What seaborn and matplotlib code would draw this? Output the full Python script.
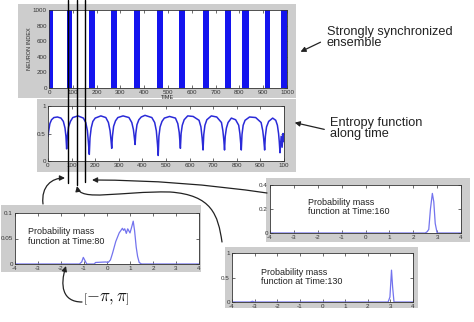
import matplotlib
matplotlib.use("Agg")
import matplotlib.pyplot as plt
from matplotlib.patches import Rectangle, FancyArrowPatch
from matplotlib.path import Path
import seaborn as sns

sns.set_theme(style="ticks")
plt.rcParams["font.family"] = ["Liberation Sans", "DejaVu Sans"]
plt.rcParams["mathtext.fontset"] = "cm"
plt.rcParams["axes.unicode_minus"] = False

W, H = 474, 322

# ---- data ----------------------------------------------------------------
# population bursts in the raster (start / end time of each synchronous burst)
burst_start = [0, 76, 168, 260, 357, 454, 547, 647, 740, 811, 908, 975]
burst_end = [15, 97, 193, 285, 382, 479, 571, 672, 765, 840, 929, 1000]
n_neurons = 1000

# entropy of the phase distribution along time
entropy_t = [0, 3, 8, 15, 25, 40, 55, 65, 72, 76, 79,
             82, 87, 95, 105, 127, 150, 160, 167, 171, 175,
             178, 183, 190, 200, 224, 245, 256, 263, 267, 270,
             273, 278, 286, 296, 318, 343, 355, 362, 366, 369,
             372, 377, 385, 395, 411, 440, 452, 459, 464, 467,
             470, 475, 483, 493, 515, 540, 550, 556, 559, 561,
             564, 569, 577, 592, 615, 640, 648, 653, 657,
             660, 665, 673, 692, 715, 735, 741, 745, 748,
             751, 756, 763, 777, 795, 808, 813, 816, 819,
             822, 827, 835, 854, 880, 903, 910, 914, 918,
             921, 926, 935, 952, 965, 972, 977, 980, 983,
             988, 992, 996, 1000]
entropy_v = [0.45, 0.55, 0.68, 0.75, 0.79, 0.80, 0.78, 0.72, 0.60, 0.45, 0.22,
             0.45, 0.62, 0.72, 0.79, 0.82, 0.78, 0.70, 0.55, 0.35, 0.12,
             0.42, 0.60, 0.72, 0.78, 0.82, 0.79, 0.70, 0.55, 0.38, 0.23,
             0.45, 0.63, 0.73, 0.79, 0.82, 0.79, 0.70, 0.57, 0.42, 0.30,
             0.50, 0.66, 0.75, 0.80, 0.83, 0.79, 0.70, 0.55, 0.30, 0.10,
             0.45, 0.62, 0.72, 0.78, 0.81, 0.78, 0.68, 0.52, 0.35, 0.23,
             0.50, 0.65, 0.75, 0.82, 0.81, 0.74, 0.62, 0.42, 0.20,
             0.48, 0.65, 0.75, 0.82, 0.80, 0.70, 0.55, 0.38, 0.20,
             0.45, 0.60, 0.70, 0.78, 0.75, 0.65, 0.50, 0.35, 0.20,
             0.48, 0.65, 0.74, 0.80, 0.79, 0.70, 0.55, 0.40, 0.20,
             0.45, 0.62, 0.72, 0.78, 0.74, 0.65, 0.50, 0.35, 0.15,
             0.45, 0.25, 0.50, 0.35]

# probability mass functions of the phase in [-pi, pi]
pmf80_x = [-4, -1.2, -1.1, -1.03, -0.95, -0.88, -0.55, -0.5, -0.05, 0.05, 0.15,
           0.24, 0.38, 0.53, 0.67, 0.72, 0.77, 0.84, 0.9, 1.0, 1.07, 1.14, 1.2,
           1.27, 1.33, 1.4, 1.5, 4]
pmf80_y = [0, 0, 0.004, 0.013, 0.006, 0, 0, 0.003, 0.004, 0.003, 0.008,
           0.021, 0.044, 0.061, 0.070, 0.066, 0.069, 0.060, 0.069, 0.061, 0.072,
           0.084, 0.065, 0.033, 0.015, 0.003, 0, 0]
pmf160_x = [-4, 2.5, 2.58, 2.65, 2.72, 2.8, 2.86, 2.92, 3.0, 4]
pmf160_y = [0, 0, 0.01, 0.03, 0.2, 0.33, 0.26, 0.08, 0, 0]
pmf130_x = [-4, -3.2, -3.1, -3.0, 2.9, 2.98, 3.05, 3.1, 3.16, 4]
pmf130_y = [0, 0, 0.015, 0, 0, 0.1, 0.65, 0.3, 0, 0]

time_ticks = [0, 100, 200, 300, 400, 500, 600, 700, 800, 900, 1000]
phase_ticks = [-4, -3, -2, -1, 0, 1, 2, 3, 4]

# ---- layout helpers ------------------------------------------------------
fig = plt.figure(figsize=(W / 100, H / 100), dpi=100)
fig.patch.set_facecolor("white")

GRAY = "#cdcdcd"
BLUE = "#1414ee"
LINE_BLUE = "#2a2ad8"
PMF_BLUE = "#7373ee"


def frac(x0, y0, x1, y1):
    return [x0 / W, 1 - y1 / H, (x1 - x0) / W, (y1 - y0) / H]


def panel_bg(x0, y0, x1, y1):
    fig.patches.append(Rectangle((x0 / W, 1 - y1 / H), (x1 - x0) / W, (y1 - y0) / H,
                                 transform=fig.transFigure, facecolor=GRAY,
                                 edgecolor="none", zorder=-5))


def matlab_axes(box):
    ax = fig.add_axes(frac(*box), zorder=1)
    ax.set_facecolor("white")
    for s in ax.spines.values():
        s.set_linewidth(0.6)
        s.set_color("#333333")
    ax.tick_params(direction="in", length=2, width=0.5, top=True, right=True,
                   labelsize=4.5, pad=1.5, colors="#333333")
    return ax


# ---- raster of neuron spikes ---------------------------------------------
panel_bg(18, 4, 296, 98)
ax_r = matlab_axes((49, 10, 287, 88))
centers = [(a + b) / 2 for a, b in zip(burst_start, burst_end)]
widths = [b - a for a, b in zip(burst_start, burst_end)]
ax_r.bar(centers, [n_neurons] * len(centers), width=widths, color=BLUE,
         edgecolor="none")
ax_r.set_xlim(0, 1000)
ax_r.set_ylim(0, 1000)
ax_r.set_xticks(time_ticks)
ax_r.set_yticks([0, 200, 400, 600, 800, 1000])
ax_r.set_xlabel("TIME", fontsize=4, labelpad=0)
ax_r.set_ylabel("NEURON INDEX", fontsize=4, labelpad=1)

# ---- entropy along time --------------------------------------------------
panel_bg(37, 99, 296, 172)
ax_e = matlab_axes((48, 106, 284, 161))
sns.lineplot(x=entropy_t, y=entropy_v, ax=ax_e, color=LINE_BLUE, lw=1.1)
ax_e.set_xlim(0, 1000)
ax_e.set_ylim(0, 1)
ax_e.set_xticks(time_ticks)
ax_e.set_xticklabels([str(t) for t in time_ticks[:-1]] + ["100"])
ax_e.set_yticks([0, 0.5, 1])
ax_e.set_yticklabels(["0", "0.5", "1"])
ax_e.set_xlabel("")
ax_e.set_ylabel("")


# ---- probability mass functions ------------------------------------------
def pmf_panel(bg, box, xs, ys, ymax, yticks, ylabels, title, txy):
    panel_bg(*bg)
    ax = matlab_axes(box)
    sns.lineplot(x=xs, y=ys, ax=ax, color=PMF_BLUE, lw=0.9)
    ax.set_xlim(-4, 4)
    ax.set_ylim(0, ymax)
    ax.set_xticks(phase_ticks)
    ax.set_yticks(yticks)
    ax.set_yticklabels(ylabels)
    ax.set_xlabel("")
    ax.set_ylabel("")
    ax.text(txy[0], txy[1], title, transform=ax.transAxes, fontsize=6.5,
            va="top", ha="left", color="#222222", linespacing=1.05)
    return ax


pmf_panel((1, 205, 201, 272), (15, 213, 199, 264), pmf80_x, pmf80_y, 0.1,
          [0, 0.05, 0.1], ["0", "0.05", "0.1"],
          "Probability mass\nfunction at Time:80", (0.07, 0.72))
pmf_panel((266, 178, 470, 242), (270, 185, 461, 233), pmf160_x, pmf160_y, 0.4,
          [0, 0.2, 0.4], ["0", "0.2", "0.4"],
          "Probability mass\nfunction at Time:160", (0.2, 0.73))
pmf_panel((225, 247, 418, 308), (232, 253, 413, 302), pmf130_x, pmf130_y, 1,
          [0, 0.5, 1], ["0", "0.5", "1"],
          "Probability mass\nfunction at Time:130", (0.16, 0.7))

# ---- annotation layer (pixel coordinates) -------------------------------
ov = fig.add_axes([0, 0, 1, 1], zorder=10)
ov.set_xlim(0, W)
ov.set_ylim(H, 0)
ov.axis("off")
ov.patch.set_alpha(0)

# markers of the three time instants
for x, yb in [(67.7, 183), (76.7, 185), (85, 182)]:
    ov.plot([x, x], [0, yb], color="black", lw=1)

ov.text(327, 26, "Strongly synchronized\nensemble", fontsize=9.2, va="top",
        ha="left", color="#222222", linespacing=0.9)
ov.text(330, 117, "Entropy function\nalong time", fontsize=9.2, va="top",
        ha="left", color="#222222", linespacing=0.9)

arrow_kw = dict(arrowstyle="-|>,head_length=3,head_width=1.5", color="#222222",
                lw=0.9, mutation_scale=1)
ov.add_patch(FancyArrowPatch((323, 41), (298, 53), **arrow_kw))
ov.add_patch(FancyArrowPatch((327, 130), (292, 122), **arrow_kw))


def curved_arrow(verts, codes):
    ov.add_patch(FancyArrowPatch(path=Path(verts, codes), **arrow_kw))


C4, C3, M = Path.CURVE4, Path.CURVE3, Path.MOVETO
curved_arrow([(43, 204), (41, 186), (52, 178), (65, 178)], [M, C4, C4, C4])
curved_arrow([(267, 193), (180, 180), (92, 180)], [M, C3, C3])
curved_arrow([(222, 242), (218, 215), (212, 195), (170, 192),
              (120, 191), (80, 202), (77, 186)],
             [M, C4, C4, C4, C4, C4, C4])
curved_arrow([(82, 302), (62, 302), (60, 285), (66, 266)], [M, C4, C4, C4])

ov.text(83, 299, r"$\left[-\pi,\pi\right]$", fontsize=12, va="center",
        ha="left", color="#111111")

fig.savefig("out.png", dpi=100)
